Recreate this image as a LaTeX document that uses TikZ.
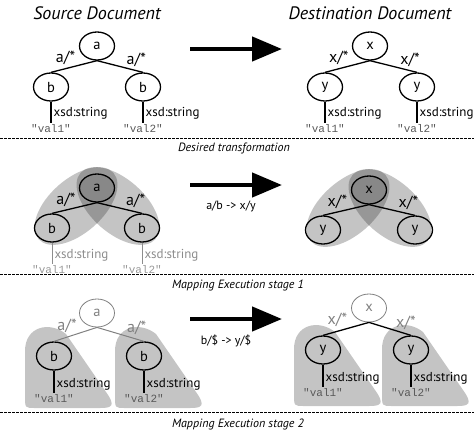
\documentclass[tikz,border=0pt]{standalone}
\usepackage{fontspec}
\setmainfont{PT Sans}
\setmonofont{Liberation Mono}
\usetikzlibrary{arrows.meta,shapes.geometric}

\tikzset{
  tnode/.style={draw, ellipse, line width=1.3pt, minimum width=35pt, minimum height=28pt, inner sep=0pt, font=\fontsize{14.5}{14.5}\selectfont},
  edge/.style={line width=1.3pt},
  elabel/.style={font=\fontsize{16}{16}\selectfont, inner sep=0.5pt},
  typelabel/.style={font=\fontsize{13}{13}\selectfont, right, inner sep=2pt},
  valtext/.style={font=\ttfamily\fontsize{11}{11}\selectfont, below, inner sep=1.5pt},
  bigarrow/.style={line width=4.5pt, -{Triangle[length=30pt,width=24pt]}},
  arrlabel/.style={font=\fontsize{12}{12}\selectfont},
  divider/.style={line width=0.8pt, dash pattern=on 2.5pt off 1.5pt},
  caption/.style={font=\itshape\fontsize{12}{12}\selectfont},
  title/.style={font=\itshape\fontsize{18}{18}\selectfont},
  blob/.style={fill=black, fill opacity=0.23},
  faded/.style={draw=black!50, text=black!50, line width=0.8pt},
}

\begin{document}
\begin{tikzpicture}[x=1pt, y=-1pt]
  \useasboundingbox (0,0) rectangle (474,440);

  % Titles
  \node[title] (srctitle) at (97,13) {Source Document};
  \node[title] (dsttitle) at (370,13) {Destination Document};

  % Desired transformation
  \node[tnode] (a1) at (97,46) {a};
  \node[tnode] (b1l) at (51,87) {b};
  \node[tnode] (b1r) at (143,87) {b};
  \node[tnode] (x1) at (370,46) {x};
  \node[tnode] (y1l) at (325,87) {y};
  \node[tnode] (y1r) at (417,87) {y};
  \draw[edge] (a1.south) -- node[elabel, pos=.45, anchor=south east] (l1al) {a/*} (b1l.north);
  \draw[edge] (a1.south) -- node[elabel, pos=.62, anchor=south west] (l1ar) {a/*} (b1r.north);
  \draw[edge] (x1.south) -- node[elabel, pos=.45, anchor=south east] (l1xl) {x/*} (y1l.north);
  \draw[edge] (x1.south) -- node[elabel, pos=.62, anchor=south west] (l1xr) {x/*} (y1r.north);
  \foreach \n/\v in {b1l/val1, b1r/val2, y1l/val1, y1r/val2} {
    \draw[edge] (\n.south) -- ++(0,21) coordinate (\n-end) node[typelabel, pos=.55] (\n-type) {xsd:string};
    \node[valtext, text=black!65] (\n-val) at (\n-end) {"\v"};
  }
  \coordinate (arr1s) at (190,49);
  \coordinate (arr1e) at (282,49);
  \draw[bigarrow] (arr1s) -- (arr1e);

  \draw[divider] (0,138) -- (474,138);
  \node[caption] (cap1) at (234,148) {Desired transformation};

  % Mapping execution, stage 1
  \fill[blob, rotate around={41.6:(76,206)}] (76,206) ellipse (50 and 27);
  \fill[blob, rotate around={-41.6:(118,206)}] (118,206) ellipse (50 and 27);
  \fill[blob, rotate around={41.6:(348,208)}] (348,208) ellipse (50 and 27);
  \fill[blob, rotate around={-41.6:(390,208)}] (390,208) ellipse (50 and 27);
  \node[tnode, fill=black, fill opacity=.1, text opacity=1] (a2) at (97,188) {a};
  \node[tnode] (b2l) at (52,228) {b};
  \node[tnode] (b2r) at (142,228) {b};
  \node[tnode, fill=black, fill opacity=.1, text opacity=1] (x2) at (369,190) {x};
  \node[tnode] (y2l) at (323,230) {y};
  \node[tnode] (y2r) at (415,230) {y};
  \draw[edge] (a2.south) -- node[elabel, pos=.45, anchor=south east] (l2al) {a/*} (b2l.north);
  \draw[edge] (a2.south) -- node[elabel, pos=.62, anchor=south west] (l2ar) {a/*} (b2r.north);
  \draw[edge] (x2.south) -- node[elabel, pos=.45, anchor=south east] (l2xl) {x/*} (y2l.north);
  \draw[edge] (x2.south) -- node[elabel, pos=.62, anchor=south west] (l2xr) {x/*} (y2r.north);
  \foreach \n/\v in {b2l/val1, b2r/val2} {
    \draw[line width=1pt, black!45] (\n.south) -- ++(0,21) coordinate (\n-end) node[typelabel, pos=.6] (\n-type) {xsd:string};
    \node[valtext, text=black!40] (\n-val) at (\n-end) {"\v"};
  }
  \coordinate (arr2s) at (190,185);
  \coordinate (arr2e) at (282,185);
  \draw[bigarrow] (arr2s) -- node[arrlabel, below=10pt, xshift=-5pt] (rule2) {a/b -> x/y} (arr2e);

  \draw[divider] (0,274) -- (474,274);
  \node[caption] (cap2) at (238,285) {Mapping Execution stage 1};

  % Mapping execution, stage 2
  \foreach \cx/\cy in {54/356, 144/356, 323/354, 411/354}
    \fill[blob, shift={(\cx,\cy)}] (-29,40) -- (-29,-5) .. controls (-29,-30) and (-4,-35) .. (12,-22)
      -- (52,36) .. controls (62,50) and (58,52) .. (46,52) -- (-19,52) .. controls (-29,52) .. (-29,40) -- cycle;
  \node[tnode, faded] (a3) at (97,313) {a};
  \node[tnode] (b3l) at (54,356) {b};
  \node[tnode] (b3r) at (144,356) {b};
  \node[tnode, faded] (x3) at (369,308) {x};
  \node[tnode] (y3l) at (323,350) {y};
  \node[tnode] (y3r) at (411,350) {y};
  \draw[line width=1pt, black!50] (a3.south) -- node[elabel, text=black!50, pos=.45, anchor=south east] (l3al) {a/*} (b3l.north);
  \draw[line width=1pt, black!50] (a3.south) -- node[elabel, text=black!50, pos=.62, anchor=south west] (l3ar) {a/*} (b3r.north);
  \draw[edge] (x3.south) -- node[elabel, text=black!50, pos=.45, anchor=south east] (l3xl) {x/*} (y3l.north);
  \draw[edge] (x3.south) -- node[elabel, text=black!50, pos=.62, anchor=south west] (l3xr) {x/*} (y3r.north);
  \foreach \n/\v in {b3l/val1, b3r/val2, y3l/val1, y3r/val2} {
    \draw[edge] (\n.south) -- ++(0,22) coordinate (\n-end) node[typelabel, pos=.6] (\n-type) {xsd:string};
    \node[valtext, text=black!65] (\n-val) at (\n-end) {"\v"};
  }
  \coordinate (arr3s) at (190,319);
  \coordinate (arr3e) at (282,319);
  \draw[bigarrow] (arr3s) -- node[arrlabel, below=10pt, xshift=-10pt] (rule3) {b/\$ -> y/\$} (arr3e);

  \draw[divider] (0,412) -- (474,412);
  \node[caption] (cap3) at (238,424) {Mapping Execution stage 2};
\end{tikzpicture}
\end{document}
